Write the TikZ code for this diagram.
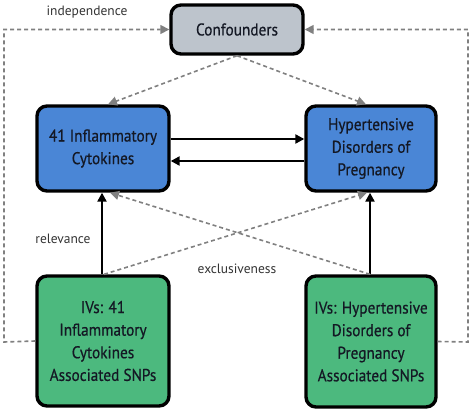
\documentclass[tikz,border=0pt]{standalone}
\usepackage{fontspec}
\setmainfont{PT Sans}
\newfontfamily\boxfont{PT Sans}[FakeStretch=0.9,FakeBold=0.6]
\usetikzlibrary{arrows.meta,calc}
\definecolor{boxblue}{RGB}{74,134,214}
\definecolor{boxgreen}{RGB}{76,185,126}
\definecolor{boxgrey}{RGB}{189,196,204}
\definecolor{dashgrey}{RGB}{128,128,128}
\definecolor{labelgrey}{RGB}{51,51,51}
\definecolor{textdark}{RGB}{20,24,36}
\begin{document}
\begin{tikzpicture}[x=1pt,y=-1pt,
  box/.style={draw=black,line width=3.4pt,rounded corners=10pt,align=center,
    text=textdark,font=\boxfont\fontsize{17}{22.6}\selectfont,inner sep=0pt},
  solidarrow/.style={line width=2.4pt,-{Triangle[length=9pt,width=9pt]}},
  dasharrow/.style={draw=dashgrey,line width=1.6pt,dash pattern=on 4pt off 3pt,
    -{Triangle[length=9pt,width=9pt]}},
  lbl/.style={text=labelgrey,font=\fontsize{13.5}{15}\selectfont,inner sep=0pt}]
\useasboundingbox (0,0) rectangle (474,414);
\node[box,fill=boxgrey,minimum width=132pt,minimum height=49pt] (conf) at (237,29.5) {Confounders};
\node[box,fill=boxblue,minimum width=132pt,minimum height=85pt] (bl) at (103,148.5) {41 Inflammatory\\Cytokines};
\node[box,fill=boxblue,minimum width=130pt,minimum height=85pt] (br) at (371,148.5) {Hypertensive\\Disorders of\\Pregnancy};
\node[box,fill=boxgreen,minimum width=132pt,minimum height=130pt] (gl) at (103,341) {IVs: 41\\Inflammatory\\Cytokines\\Associated SNPs};
\node[box,fill=boxgreen,minimum width=130pt,minimum height=131pt] (gr) at (371,341.5) {IVs: Hypertensive\\Disorders of\\Pregnancy\\Associated SNPs};
\coordinate (cl) at (4,342);
\coordinate (cr) at (468,342);
% outer independence loop
\draw[dasharrow] (gl.west) -- (cl) |- (conf.west);
\draw[dasharrow] (gr.east) -- (cr) |- (conf.east);
% confounders to exposures
\draw[dasharrow] (conf.south) -- ($(bl.north)+(5,0)$);
\draw[dasharrow] (conf.south) -- ($(br.north)+(-5,0)$);
% horizontal arrows
\draw[solidarrow] ($(bl.east)+(0,-9.5)$) -- ($(br.west)+(0,-9.5)$);
\draw[solidarrow] ($(br.west)+(0,12.5)$) -- ($(bl.east)+(0,12.5)$);
% relevance arrows
\draw[solidarrow] ($(gl.north)+(-1,0)$) -- ($(bl.south)+(-1,0)$);
\draw[solidarrow] ($(gr.north)+(-1,0)$) -- ($(br.south)+(-1,0)$);
% exclusiveness cross
\draw[dasharrow] ($(gl.north)+(1,0)$) -- ($(br.south)+(-4,0)$);
\draw[dasharrow] ($(gr.north)+(-1,0)$) -- ($(bl.south)+(7,0)$);
% labels
\node[lbl] (lind) at (87,12) {independence};
\node[lbl] (lrel) at (63,239) {relevance};
\node[lbl] (lexc) at (237,269) {exclusiveness};
\end{tikzpicture}
\end{document}
